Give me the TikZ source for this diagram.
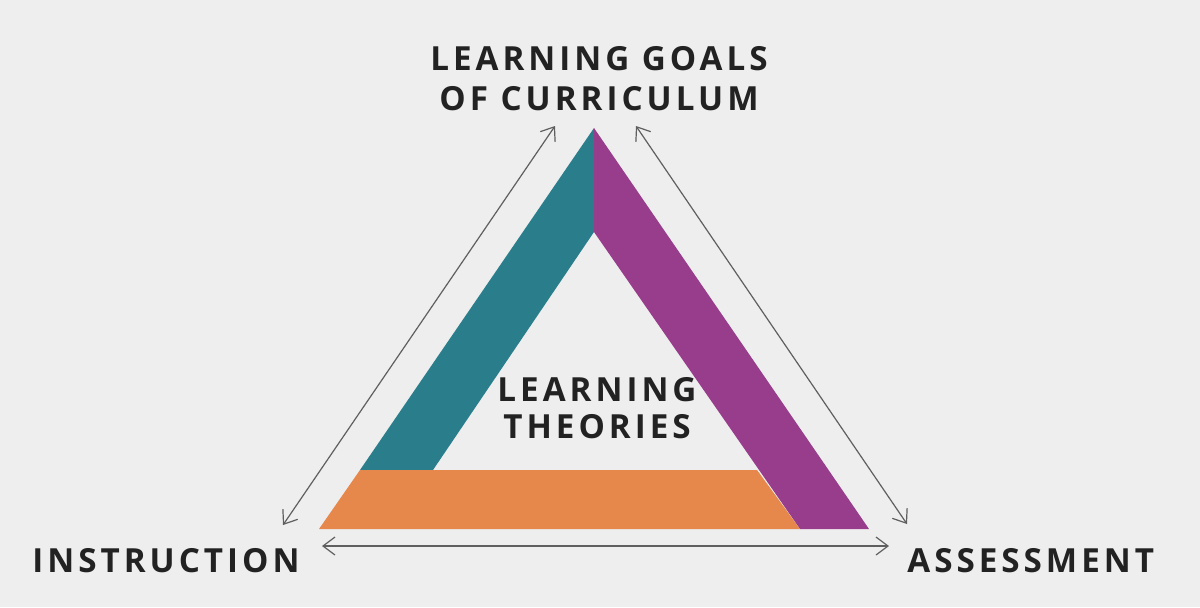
\documentclass[tikz,border=0pt]{standalone}
\usepackage{fontspec}
\newfontfamily\lblfont[LetterSpace=12]{Open Sans}
\usetikzlibrary{arrows.meta}
\definecolor{bgc}{RGB}{238,238,238}
\definecolor{tealc}{RGB}{42,126,140}
\definecolor{purplec}{RGB}{152,60,140}
\definecolor{orangec}{RGB}{230,136,76}
\definecolor{txtc}{RGB}{34,34,34}
\definecolor{arrc}{RGB}{95,95,95}
\tikzset{
  lbl/.style={font=\lblfont\bfseries\fontsize{16.6pt}{20pt}\selectfont, text=txtc, inner sep=0pt, align=center},
  link/.style={draw=arrc, line width=0.6pt, {Straight Barb[length=6pt,width=9pt]}-{Straight Barb[length=6pt,width=9pt]}},
}
\begin{document}
\begin{tikzpicture}[x=0.5pt,y=-0.5pt]
\fill[bgc] (0,0) rectangle (1200,607);
\useasboundingbox (0,0) rectangle (1200,607);
% band corners
\coordinate (top) at (594,128);
\coordinate (itop) at (594,232);
\coordinate (tl) at (360,470);
\coordinate (ti) at (433,470);
\coordinate (bl) at (319,529);
\coordinate (br) at (869,529);
\coordinate (pi) at (800,529);
\coordinate (oi) at (757,470);
\fill[tealc] (top) -- (tl) -- (ti) -- (itop) -- cycle;
\fill[purplec] (top) -- (br) -- (pi) -- (itop) -- cycle;
\fill[orangec] (tl) -- (bl) -- (pi) -- (oi) -- cycle;
% labels
\node[lbl] (goals) at (599,78.5) {LEARNING GOALS\\OF CURRICULUM};
\node[lbl,font=\lblfont\bfseries\fontsize{16.6pt}{18.5pt}\selectfont] (theories) at (597,408.5) {LEARNING\\THEORIES};
\node[lbl,anchor=west] (instr) at (32,560.5) {INSTRUCTION};
\node[lbl,anchor=west] (assess) at (907,560.5) {ASSESSMENT};
% arrow ends
\coordinate (a1) at (283,525);
\coordinate (a2) at (555,126);
\coordinate (b1) at (636,126);
\coordinate (b2) at (907,524);
\coordinate (c1) at (322,546);
\coordinate (c2) at (889,546);
\draw[link] (a1) -- (a2);
\draw[link] (b1) -- (b2);
\draw[link] (c1) -- (c2);
\end{tikzpicture}
\end{document}
